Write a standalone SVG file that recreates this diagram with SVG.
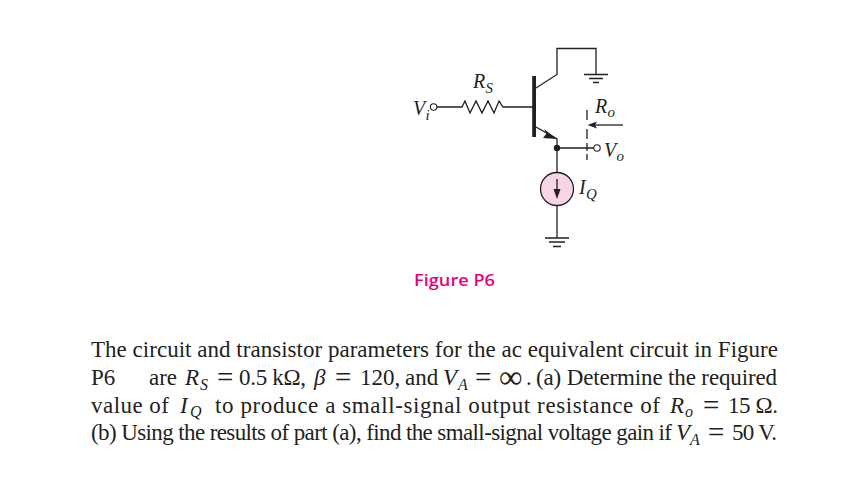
<svg xmlns="http://www.w3.org/2000/svg" width="841" height="498" viewBox="0 0 841 498">
<style>
.w{fill:none;stroke:#231f20;stroke-width:1.3}
.g{fill:none;stroke:#231f20;stroke-width:1.6}
text{font-family:"Liberation Serif","Times New Roman",serif;fill:#231f20}
.b{font-size:23px}
.e{font-size:29px}
.i{font-style:italic}
.s{font-size:16px;font-style:italic}
.l{font-size:20px;font-style:italic}
.ls{font-size:15px;font-style:italic}
.t{fill:#fff;stroke:#231f20;stroke-width:1.1}
</style>
<rect width="841" height="498" fill="#fff"/>
<g id="connectors">
<path class="w" d="M436.800 107H462L465 101L470 113L476 101L482 113L488 101L494 113L499 101L503 107H534"/>
<path class="w" d="M536 88L557 74.500V48.500H596V74.500"/>
<path class="w" d="M536 127L557 139V148H593.800"/>
<path class="w" d="M557 148V172.500M557 205.500V238"/>
<path class="w" d="M587 110V120M587 129V139M587 143V151M587 154V160" stroke-width="1"/>
<path class="w" d="M623 125H592"/>
<path fill="#231f20" d="M587.500 125L597 121.500L595 125L597 128.500Z"/>
<path fill="#231f20" d="M557 139L543 138L546.500 133.500L544 129Z"/>
</g>
<g id="transistor"><rect x="532.200" y="76" width="3.800" height="61" fill="#231f20"/></g>
<g id="ground-top"><path class="g" d="M584 74.500H608M589 78.500H603M593 82.500H599"/></g>
<g id="ground-bottom"><path class="g" d="M545 238H569M549 242H565M553 246.500H561"/></g>
<g id="junction"><circle cx="557" cy="148" r="3.200" fill="#231f20"/></g>
<g id="input-terminal"><circle class="t" cx="433.600" cy="107" r="3.200"/><text class="l" x="413" y="115">V</text><text class="ls" x="425.500" y="120">i</text></g>
<g id="output-terminal"><circle class="t" cx="597" cy="148" r="3.200"/><text class="l" x="604" y="157">V</text><text class="ls" x="616.500" y="161">o</text></g>
<g id="rs"><text class="l" x="473" y="88">R</text><text class="ls" x="485.500" y="93">S</text></g>
<g id="ro"><text class="l" x="595" y="113">R</text><text class="ls" x="607.500" y="117">o</text></g>
<g id="current-source">
<circle cx="557" cy="189" r="16.500" fill="#f8d5e6" stroke="#231f20" stroke-width="1.300"/>
<path class="w" d="M557 179V192"/><path fill="#231f20" d="M557 199L553.500 189H560.500Z"/>
<text class="l" x="579" y="194">I</text><text class="ls" x="586" y="199">Q</text>
</g>
<text x="414" y="286" font-size="16.500" font-weight="600" style="font-family:'Open Sans','Noto Sans',sans-serif;fill:#e6007e" textLength="81" lengthAdjust="spacingAndGlyphs">Figure P6</text>
<text class="b" x="91" y="357" textLength="687" lengthAdjust="spacing">The circuit and transistor parameters for the ac equivalent circuit in Figure</text>
<text class="b" x="91" y="385">P6</text>
<text class="b" x="149" y="385">are</text>
<text class="b i" x="185" y="385">R</text><text class="s" x="200" y="390">S</text>
<text class="e" x="217" y="387">=</text>
<text class="b" x="239" y="385" textLength="67" lengthAdjust="spacing">0.5 kΩ,</text>
<text class="b i" x="314" y="385">β</text>
<text class="e" x="335" y="387">=</text>
<text class="b" x="360" y="385">120,</text>
<text class="b" x="405" y="385">and</text>
<text class="b i" x="443" y="385">V</text><text class="s" x="458" y="390">A</text>
<text class="e" x="475" y="387">=</text>
<text class="e" x="499" y="388" style="font-size:33px">∞</text><text class="b" x="526" y="385">.</text>
<text class="b" x="536" y="385" textLength="241" lengthAdjust="spacing">(a) Determine the required</text>
<text class="b" x="91" y="412.500" textLength="78" lengthAdjust="spacing">value of</text>
<text class="b i" x="180" y="412.500">I</text><text class="s" x="190" y="417">Q</text>
<text class="b" x="215" y="412.500" textLength="445" lengthAdjust="spacing">to produce a small-signal output resistance of</text>
<text class="b i" x="670" y="412.500">R</text><text class="s" x="685" y="417">o</text>
<text class="e" x="703" y="414.500">=</text>
<text class="b" x="728" y="412.500" textLength="50" lengthAdjust="spacing">15 Ω.</text>
<text class="b" x="91" y="440" textLength="581" lengthAdjust="spacing">(b) Using the results of part (a), find the small-signal voltage gain if</text>
<text class="b i" x="676" y="440">V</text><text class="s" x="690" y="445">A</text>
<text class="e" x="708" y="442">=</text>
<text class="b" x="732" y="440" textLength="45" lengthAdjust="spacing">50 V.</text>
</svg>
